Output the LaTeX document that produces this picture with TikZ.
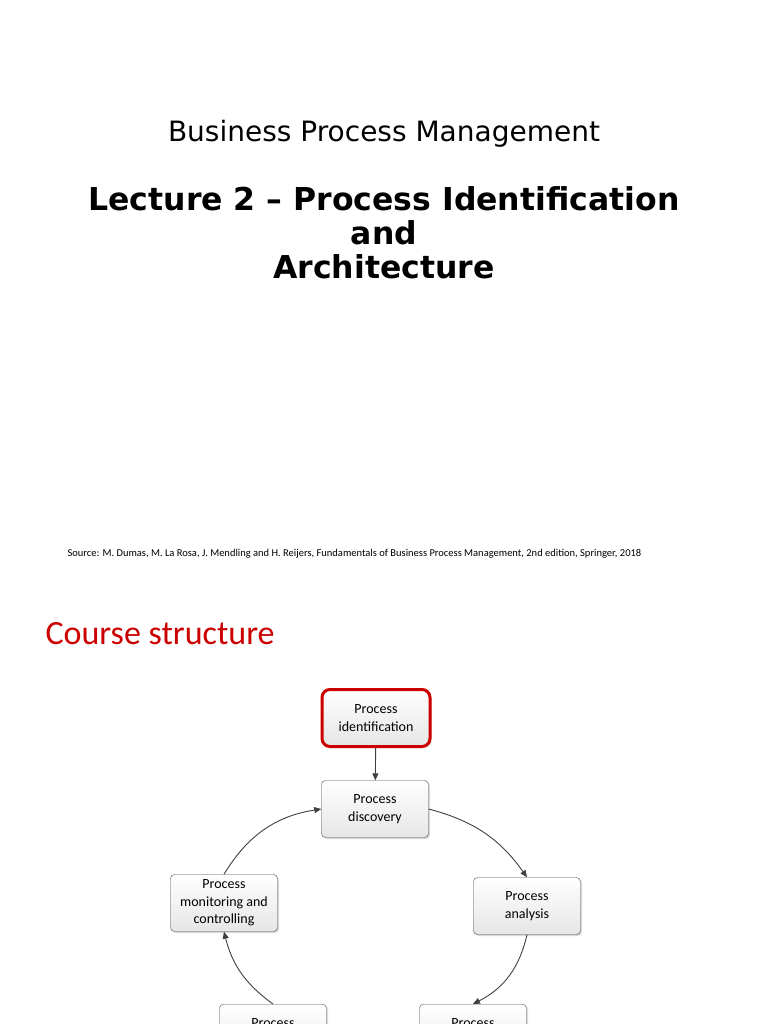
\documentclass[tikz,border=0pt]{standalone}
\usepackage{fontspec}
\setmainfont{DejaVu Sans}
\newfontfamily\carlitofont{Carlito}
\usetikzlibrary{arrows.meta,shadows}
\begin{document}
\begin{tikzpicture}[x=1pt,y=-1pt,
  box/.style={draw=black!70,rounded corners=4pt,minimum width=107pt,minimum height=57pt,align=center,
    font=\carlitofont\fontsize{14}{17.5}\selectfont,top color=white,bottom color=black!10,
    drop shadow={shadow xshift=1.5pt,shadow yshift=-1.5pt,opacity=0.3}},
  hl/.style={box,draw=red!80!black,line width=3pt,rounded corners=8pt,minimum width=108pt},
  arr/.style={-{Triangle[length=7pt,width=6pt]},draw=black!75,line width=0.9pt}]
\clip (0,0) rectangle (768,1024);
\fill[white] (0,0) rectangle (768,1024);
\node (t1) at (384,134) {\fontsize{28}{32}\selectfont Business Process Management};
\node[align=center,font=\bfseries\fontsize{31.5}{34}\selectfont] (t2) at (384,233) {Lecture 2 -- Process Identification\\and\\Architecture};
\node[anchor=west,font=\carlitofont\fontsize{10.5}{12}\selectfont] (src) at (64,554) {Source: M. Dumas, M. La Rosa, J. Mendling and H. Reijers, Fundamentals of Business Process Management, 2nd edition, Springer, 2018};
\node[anchor=west,font=\carlitofont\fontsize{34}{40}\selectfont,text=red!80!black] (cs) at (42,634) {Course structure};
\node[hl] (id) at (376,718) {Process\\identification};
\node[box] (di) at (375,809) {Process\\discovery};
\node[box] (mo) at (224,903) {Process\\monitoring and\\controlling};
\node[box] (an) at (527,906) {Process\\analysis};
\node[box,anchor=north] (im) at (273,1004) {Process\\implementation};
\node[box,anchor=north] (re) at (473,1004) {Process\\redesign};
\draw[arr] (id) -- (di);
\draw[arr] (di.east) to[bend left=20] (an.north);
\draw[arr] (an.south) to[bend left=25] (re.north);
\draw[arr] (im.north) to[bend left=20] (mo.south);
\draw[arr] (mo.north) to[bend left=25] (di.west);
\end{tikzpicture}
\end{document}
